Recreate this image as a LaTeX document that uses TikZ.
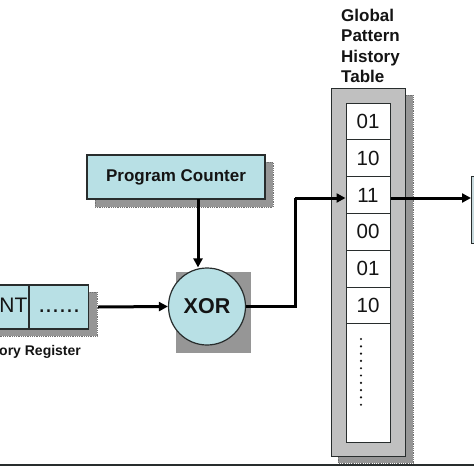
\documentclass[tikz,border=0pt]{standalone}
\usepackage{fontspec}
\setmainfont{Liberation Sans}
\usetikzlibrary{arrows.meta}
\definecolor{boxblue}{RGB}{184,224,229}
\definecolor{shadowgray}{RGB}{150,150,150}
\definecolor{tablegray}{RGB}{192,192,192}
\definecolor{edgec}{RGB}{40,45,45}
\definecolor{rboxc}{RGB}{200,218,222}
\definecolor{txt}{RGB}{20,20,20}
\begin{document}
\begin{tikzpicture}[x=1pt,y=-1pt,
  shadowbox/.style={fill=shadowgray,draw=shadowgray!75!black,densely dotted,line width=0.8pt},
  bluebox/.style={draw=edgec,fill=boxblue,line width=1.2pt,text=txt},
  cellbox/.style={draw=edgec,fill=white,line width=1pt,minimum width=44pt,minimum height=36.8pt,inner sep=0pt,text=txt,font=\fontsize{20.5}{24}\selectfont},
  arr/.style={line width=3pt,-{Triangle[length=9pt,width=9pt]},black}]
\useasboundingbox (0,0) rectangle (474,474);
% shadows
\fill[shadowgray] (176,272) rectangle (251,353);
\path[shadowbox] (338,95) rectangle (413,463);
\path[shadowbox] (95,162) rectangle (273,207);
\path[shadowbox] (-50,292) rectangle (97,336);
% table
\node[draw=edgec,fill=tablegray,line width=1.2pt,minimum width=74pt,minimum height=368pt,inner sep=0pt,anchor=north west] (tbl) at (331,88) {};
\node[cellbox] (c1) at (368,121.4) {01};
\node[cellbox] (c2) at (368,158.2) {10};
\node[cellbox] (c3) at (368,195.0) {11};
\node[cellbox] (c4) at (368,231.8) {00};
\node[cellbox] (c5) at (368,268.6) {01};
\node[cellbox] (c6) at (368,305.4) {10};
\node[cellbox,minimum height=118.2pt] (c7) at (368,382.9) {};
\foreach \i in {0,...,9} \fill[txt] (361,339+7.3*\i) circle (1.2);
% title
\node[anchor=north west,align=left,inner sep=0pt,text=txt,font=\bfseries\fontsize{17}{20.3}\selectfont] (title) at (341,9) {Global\\Pattern\\History\\Table};
% program counter
\node[bluebox,minimum width=178pt,minimum height=44pt,inner sep=0pt,font=\bfseries\fontsize{17}{20}\selectfont] (pc) at (176,177) {Program Counter};
% xor
\node[circle,draw=edgec,fill=boxblue,line width=1.2pt,minimum size=77pt,inner sep=0pt,text=txt,font=\bfseries\fontsize{21.5}{24}\selectfont] (xor) at (207,306.5) {XOR};
% register
\node[bluebox,anchor=east,minimum height=44pt,inner xsep=1pt,inner ysep=0pt,text width=87pt,align=right,text height=15pt,text depth=4pt,font=\fontsize{21}{24}\selectfont] (r1) at (29,307) {NT};
\node[bluebox,anchor=west,minimum width=59pt,minimum height=44pt,inner sep=0pt,text height=15pt,text depth=4pt,font=\fontsize{25}{28}\selectfont] (r2) at (r1.east) {......};
\node[anchor=west,inner sep=0pt,text=txt,font=\bfseries\fontsize{14}{16}\selectfont] (reglabel) at (-1,352) {ory Register};
% output box
\node[draw=edgec,fill=rboxc,line width=1.2pt,minimum width=40pt,minimum height=67pt,inner sep=0pt,anchor=north west] (out) at (471,176) {};
% connectors
\coordinate (pcout) at (198,199);
\coordinate (turn) at (295,198);
\coordinate (c3in) at ([yshift=-3pt]c3.west);
\coordinate (c3out) at ([yshift=-3pt]c3.east);
\draw[arr] (pcout) -- (pcout |- xor.north);
\draw[arr] ([xshift=9pt]r2.east) -- (xor.west);
\draw[arr,-] (xor.east) -| (turn);
\draw[arr] (turn) -- (c3in);
\draw[arr] (c3out) -- (c3out -| out.west);
% baseline rule
\draw[line width=1.5pt,edgec] (0,465) -- (474,465);
\end{tikzpicture}
\end{document}
